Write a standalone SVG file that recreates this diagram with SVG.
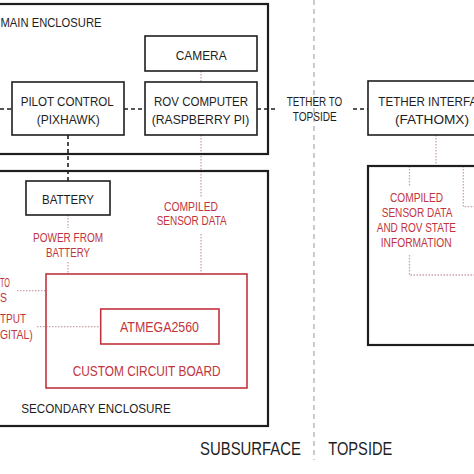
<svg xmlns="http://www.w3.org/2000/svg" width="474" height="474" viewBox="0 0 474 474">
<style>
  .box{fill:#fff;stroke:#1e1e1e;stroke-width:1.6}
  .enc{fill:none;stroke:#1e1e1e;stroke-width:2.2}
  .rbox{fill:none;stroke:#c2343d;stroke-width:1.6}
  .t{font-family:"Liberation Sans",Arial,sans-serif;font-size:13.5px;fill:#1e1e1e}
  .r{font-family:"Liberation Sans",Arial,sans-serif;font-size:12.5px;fill:#c2343d}
  .big{font-family:"Liberation Sans",Arial,sans-serif;font-size:17.5px;fill:#1e1e1e}
  .dash{fill:none;stroke:#1e1e1e;stroke-width:1.6;stroke-dasharray:4 3}
  .dot{fill:none;stroke:#c9a3a6;stroke-width:1.3;stroke-dasharray:1.5 1.5}
  .div{fill:none;stroke:#a8a8a8;stroke-width:1.2;stroke-dasharray:5 4}
</style>
<g id="connectors">
  <line class="div" x1="314" y1="0" x2="314" y2="460"/>
  <line class="dash" x1="0" y1="109" x2="12" y2="109"/>
  <line class="dash" x1="124" y1="109" x2="145" y2="109"/>
  <line class="dash" x1="257" y1="109" x2="278" y2="109"/>
  <line class="dash" x1="353" y1="109" x2="368" y2="109"/>
  <line class="dash" x1="68" y1="135" x2="68" y2="181"/>
  <line class="dot" x1="201" y1="71" x2="201" y2="82"/>
  <line class="dot" x1="201" y1="135" x2="201" y2="197"/>
  <line class="dot" x1="201" y1="234" x2="201" y2="274"/>
  <line class="dot" x1="68" y1="215" x2="68" y2="228"/>
  <line class="dot" x1="68" y1="262" x2="68" y2="274"/>
  <line class="dot" x1="17" y1="290.7" x2="46" y2="290.7"/>
  <line class="dot" x1="37" y1="326.7" x2="100.7" y2="326.7"/>
  <line class="dot" x1="436" y1="135" x2="436" y2="166"/>
  <line class="dot" x1="409.5" y1="166" x2="409.5" y2="187"/>
  <polyline class="dot" points="409.5,255 409.5,275 474,275"/>
  <polyline class="dot" points="463.3,166 463.3,206.7 474,206.7"/>
</g>
<g id="main-enclosure">
  <rect class="enc" x="-10" y="4" width="278" height="150"/>
  <text class="t" x="0.5" y="27" textLength="101" lengthAdjust="spacingAndGlyphs">MAIN ENCLOSURE</text>
</g>
<g id="camera">
  <rect class="box" x="145" y="36" width="112" height="35"/>
  <text class="t" x="175.7" y="60" textLength="51" lengthAdjust="spacingAndGlyphs">CAMERA</text>
</g>
<g id="pilot-control">
  <rect class="box" x="12" y="82" width="112" height="53"/>
  <text class="t" x="20.7" y="106" textLength="93" lengthAdjust="spacingAndGlyphs">PILOT CONTROL</text>
  <text class="t" x="36.7" y="124" textLength="63" lengthAdjust="spacingAndGlyphs">(PIXHAWK)</text>
</g>
<g id="rov-computer">
  <rect class="box" x="145" y="82" width="112" height="53"/>
  <text class="t" x="154" y="106" textLength="94" lengthAdjust="spacingAndGlyphs">ROV COMPUTER</text>
  <text class="t" x="151.7" y="124" textLength="97.6" lengthAdjust="spacingAndGlyphs">(RASPBERRY PI)</text>
</g>
<g id="tether-label">
  <text class="t" x="286.7" y="106" textLength="55.6" lengthAdjust="spacingAndGlyphs">TETHER TO</text>
  <text class="t" x="292.7" y="120.5" textLength="44" lengthAdjust="spacingAndGlyphs">TOPSIDE</text>
</g>
<g id="tether-interface">
  <rect class="box" x="368" y="81" width="140" height="54"/>
  <text class="t" x="378.3" y="106" textLength="115" lengthAdjust="spacingAndGlyphs">TETHER INTERFACE</text>
  <text class="t" x="395" y="124" textLength="74" lengthAdjust="spacingAndGlyphs">(FATHOMX)</text>
</g>
<g id="secondary-enclosure">
  <rect class="enc" x="-10" y="171" width="278" height="255"/>
  <text class="t" x="21.3" y="413.3" textLength="149.4" lengthAdjust="spacingAndGlyphs">SECONDARY ENCLOSURE</text>
</g>
<g id="battery">
  <rect class="box" x="26" y="181" width="84" height="34"/>
  <text class="t" x="42" y="204" textLength="52" lengthAdjust="spacingAndGlyphs">BATTERY</text>
</g>
<g id="label-compiled-left">
  <text class="r" x="164" y="210.7" textLength="54" lengthAdjust="spacingAndGlyphs">COMPILED</text>
  <text class="r" x="156.7" y="225" textLength="70" lengthAdjust="spacingAndGlyphs">SENSOR DATA</text>
</g>
<g id="label-power">
  <text class="r" x="33" y="241.7" textLength="70" lengthAdjust="spacingAndGlyphs">POWER FROM</text>
  <text class="r" x="46" y="256.7" textLength="44" lengthAdjust="spacingAndGlyphs">BATTERY</text>
</g>
<g id="custom-circuit-board">
  <rect class="rbox" x="46" y="274" width="201" height="114"/>
  <text class="r" x="72.7" y="376" textLength="148" lengthAdjust="spacingAndGlyphs" style="font-size:14px">CUSTOM CIRCUIT BOARD</text>
</g>
<g id="atmega">
  <rect class="rbox" x="100.7" y="309" width="118.3" height="35"/>
  <text class="r" x="120" y="332.3" textLength="79" lengthAdjust="spacingAndGlyphs" style="font-size:14px">ATMEGA2560</text>
</g>
<g id="label-left-partial">
  <text class="r" x="0" y="287" textLength="10" lengthAdjust="spacingAndGlyphs">TO</text>
  <text class="r" x="0" y="302.3" textLength="7" lengthAdjust="spacingAndGlyphs">S</text>
  <text class="r" x="0" y="323.3" textLength="26" lengthAdjust="spacingAndGlyphs">TPUT</text>
  <text class="r" x="0" y="339.3" textLength="32.7" lengthAdjust="spacingAndGlyphs">GITAL)</text>
</g>
<g id="topside-enclosure">
  <rect class="enc" x="368" y="166" width="120" height="179"/>
</g>
<g id="label-compiled-right">
  <text class="r" x="390" y="202.3" textLength="53" lengthAdjust="spacingAndGlyphs">COMPILED</text>
  <text class="r" x="381.7" y="217.3" textLength="70.7" lengthAdjust="spacingAndGlyphs">SENSOR DATA</text>
  <text class="r" x="376.7" y="232.3" textLength="79.3" lengthAdjust="spacingAndGlyphs">AND ROV STATE</text>
  <text class="r" x="380.7" y="246.7" textLength="71" lengthAdjust="spacingAndGlyphs">INFORMATION</text>
</g>
<g id="zone-labels">
  <text class="big" x="200" y="455" textLength="101" lengthAdjust="spacingAndGlyphs">SUBSURFACE</text>
  <text class="big" x="328.3" y="454.5" textLength="64" lengthAdjust="spacingAndGlyphs">TOPSIDE</text>
</g>
</svg>
